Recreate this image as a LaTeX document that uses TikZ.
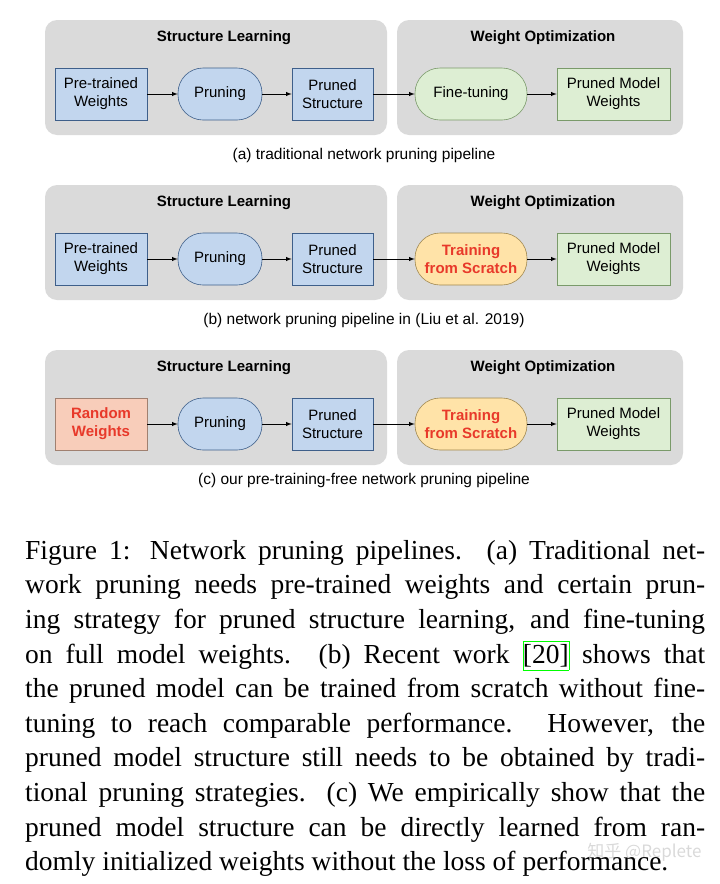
\documentclass[tikz,border=0pt]{standalone}
\usepackage{fontspec}
\setmainfont{Liberation Serif}
\newfontfamily\sff{Liberation Sans}
\newfontfamily\cjk{Noto Sans CJK SC}
\definecolor{panel}{HTML}{DADADA}
\definecolor{bfill}{HTML}{C2D6EE}
\definecolor{bdraw}{HTML}{3E5F8A}
\definecolor{gfill}{HTML}{DDEED3}
\definecolor{gdraw}{HTML}{7A9A6A}
\definecolor{ofill}{HTML}{FFE3A8}
\definecolor{odraw}{HTML}{A08850}
\definecolor{rfill}{HTML}{F8CDBA}
\definecolor{rdraw}{HTML}{A08070}
\definecolor{redt}{HTML}{E8392A}
\begin{document}
\begin{tikzpicture}[x=1pt,y=-1pt,
  ttl/.style={font=\sff\bfseries\fontsize{15}{16}\selectfont},
  box/.style={draw=bdraw,fill=bfill,minimum height=52pt,align=center,font=\sff\fontsize{15}{18}\selectfont,line width=0.6pt},
  rnd/.style={box,rounded corners=25pt},
  arr/.style={-latex,line width=0.9pt},
  subcap/.style={font=\sff\fontsize{15.5}{18}\selectfont}]
\useasboundingbox (0,0) rectangle (720,884);
\node[text=gray!30,font=\cjk\fontsize{17}{20}\selectfont,anchor=east] (wm) at (705,852) {知乎 @Replete};
\foreach \r/\dy in {a/0,b/165,c/330}{
  \fill[panel,rounded corners=12pt] (45,20+\dy) rectangle (387,135+\dy);
  \fill[panel,rounded corners=12pt] (397,20+\dy) rectangle (683,135+\dy);
  \node[ttl] (t1\r) at (224,38+\dy) {Structure Learning};
  \node[ttl] (t2\r) at (543,38+\dy) {Weight Optimization};
  \node[rnd,minimum width=84pt] (pr\r) at (220,94+\dy) {Pruning};
  \node[box,minimum width=81pt] (ps\r) at (332.5,94+\dy) {Pruned\\Structure};
  \node[box,draw=gdraw,fill=gfill,minimum width=113pt] (pm\r) at (613.5,94+\dy) {Pruned Model\\Weights};
}
\node[box,minimum width=92pt] (w a) at (101,94) {Pre-trained\\Weights};
\node[box,minimum width=92pt] (w b) at (101,259) {Pre-trained\\Weights};
\node[box,draw=rdraw,fill=rfill,minimum width=92pt,text=redt,font=\sff\bfseries\fontsize{15}{18}\selectfont] (w c) at (101,424) {Random\\Weights};
\node[rnd,draw=gdraw,fill=gfill,minimum width=112pt] (f a) at (471,94) {Fine-tuning};
\node[rnd,draw=odraw,fill=ofill,minimum width=112pt,text=redt,font=\sff\bfseries\fontsize{15}{18}\selectfont] (f b) at (471,259) {Training\\from Scratch};
\node[rnd,draw=odraw,fill=ofill,minimum width=112pt,text=redt,font=\sff\bfseries\fontsize{15}{18}\selectfont] (f c) at (471,424) {Training\\from Scratch};
\foreach \r in {a,b,c}{
  \draw[arr] (w \r) -- (pr\r);
  \draw[arr] (pr\r) -- (ps\r);
  \draw[arr] (ps\r) -- (f \r);
  \draw[arr] (f \r) -- (pm\r);
}
\node[subcap] (ca) at (364,155) {(a) traditional network pruning pipeline};
\node[subcap] (cb) at (364,320) {(b) network pruning pipeline in (Liu et al. 2019)};
\node[subcap] (cc) at (364,480) {(c) our pre-training-free network pruning pipeline};
\node[anchor=north west,inner sep=0pt,font=\fontsize{27.5}{34.6}\selectfont,align=left] (fig) at (25,540) {%
\makebox[680pt][s]{Figure 1: Network pruning pipelines. (a) Traditional net-}\\
\makebox[680pt][s]{work pruning needs pre-trained weights and certain prun-}\\
\makebox[680pt][s]{ing strategy for pruned structure learning, and fine-tuning}\\
\makebox[680pt][s]{on full model weights. (b) Recent work \fcolorbox{green}{white}{\kern-3pt[20]\kern-3pt} shows that}\\
\makebox[680pt][s]{the pruned model can be trained from scratch without fine-}\\
\makebox[680pt][s]{tuning to reach comparable performance. However, the}\\
\makebox[680pt][s]{pruned model structure still needs to be obtained by tradi-}\\
\makebox[680pt][s]{tional pruning strategies. (c) We empirically show that the}\\
\makebox[680pt][s]{pruned model structure can be directly learned from ran-}\\
domly initialized weights without the loss of performance.};
\end{tikzpicture}
\end{document}
